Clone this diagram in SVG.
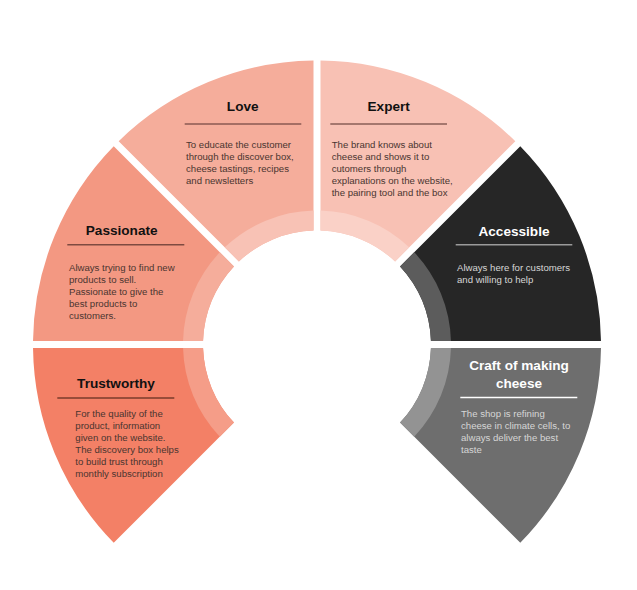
<svg xmlns="http://www.w3.org/2000/svg" width="637" height="590" viewBox="0 0 637 590">
<style>
.t{font-family:"Liberation Sans",Arial,sans-serif;font-weight:bold;font-size:13.6px;text-anchor:middle}
.d{font-family:"Liberation Sans",Arial,sans-serif;font-size:9.6px}
.dk{fill:#111}
.dd{fill:#4a3530}
.lt{fill:#ffffff}
.ld{fill:#d6d6d6}
.u{stroke-width:1.6;fill:none}
</style>
<rect width="637" height="590" fill="#ffffff"/>
<g id="craft">
<path d="M 520.278 542.828 A 284 284 0 0 0 600.978 348 L 430.946 348 A 114 114 0 0 1 400.047 422.598 Z" fill="#6e6e6e"/>
<path d="M 414.195 436.745 A 134 134 0 0 0 450.954 348 L 430.946 348 A 114 114 0 0 1 400.047 422.598 Z" fill="#939393"/>
<text class="t lt" x="519" y="370">Craft of making</text>
<text class="t lt" x="519" y="387.5">cheese</text>
<line class="u" x1="460.3" y1="397.5" x2="577.3" y2="397.5" stroke="#ffffff"/>
<text class="d ld" x="461" y="416.7">The shop is refining</text>
<text class="d ld" x="461" y="428.7">cheese in climate cells, to</text>
<text class="d ld" x="461" y="440.7">always deliver the best</text>
<text class="d ld" x="461" y="452.7">taste</text>
</g>
<g id="accessible">
<path d="M 600.978 341 A 284 284 0 0 0 520.278 146.172 L 400.047 266.402 A 114 114 0 0 1 430.946 341 Z" fill="#262626"/>
<path d="M 450.954 341 A 134 134 0 0 0 414.195 252.255 L 400.047 266.402 A 114 114 0 0 1 430.946 341 Z" fill="#5c5c5c"/>
<text class="t lt" x="514" y="235.7">Accessible</text>
<line class="u" x1="455.7" y1="244.7" x2="572.3" y2="244.7" stroke="#9a9a9a"/>
<text class="d ld" x="457" y="270.7">Always here for customers</text>
<text class="d ld" x="457" y="282.7">and willing to help</text>
</g>
<g id="expert">
<path d="M 515.328 141.222 A 284 284 0 0 0 320.5 60.522 L 320.5 230.554 A 114 114 0 0 1 395.098 261.453 Z" fill="#f8c1b4"/>
<path d="M 409.245 247.305 A 134 134 0 0 0 320.5 210.546 L 320.5 230.554 A 114 114 0 0 1 395.098 261.453 Z" fill="#fad1c7"/>
<text class="t dk" x="388.7" y="110.7">Expert</text>
<line class="u" x1="330.3" y1="124" x2="447" y2="124" stroke="#8a5e57"/>
<text class="d dd" x="331.7" y="148.3">The brand knows about</text>
<text class="d dd" x="331.7" y="160.3">cheese and shows it to</text>
<text class="d dd" x="331.7" y="172.3">cutomers through</text>
<text class="d dd" x="331.7" y="184.3">explanations on the website,</text>
<text class="d dd" x="331.7" y="196.3">the pairing tool and the box</text>
</g>
<g id="love">
<path d="M 313.5 60.522 A 284 284 0 0 0 118.672 141.222 L 238.902 261.453 A 114 114 0 0 1 313.5 230.554 Z" fill="#f5ad9b"/>
<path d="M 313.5 210.546 A 134 134 0 0 0 224.755 247.305 L 238.902 261.453 A 114 114 0 0 1 313.5 230.554 Z" fill="#f8c2b5"/>
<text class="t dk" x="242.7" y="110.7">Love</text>
<line class="u" x1="184.7" y1="124" x2="301.3" y2="124" stroke="#8a5a52"/>
<text class="d dd" x="186" y="148.3">To educate the customer</text>
<text class="d dd" x="186" y="160.3">through the discover box,</text>
<text class="d dd" x="186" y="172.3">cheese tastings, recipes</text>
<text class="d dd" x="186" y="184.3">and newsletters</text>
</g>
<g id="passionate">
<path d="M 113.722 146.172 A 284 284 0 0 0 33.022 341 L 203.054 341 A 114 114 0 0 1 233.953 266.402 Z" fill="#f39882"/>
<path d="M 219.805 252.255 A 134 134 0 0 0 183.046 341 L 203.054 341 A 114 114 0 0 1 233.953 266.402 Z" fill="#f5ad9b"/>
<text class="t dk" x="121.7" y="235.3">Passionate</text>
<line class="u" x1="67.3" y1="244.7" x2="184.3" y2="244.7" stroke="#7e4a40"/>
<text class="d dd" x="69" y="270.7">Always trying to find new</text>
<text class="d dd" x="69" y="282.7">products to sell.</text>
<text class="d dd" x="69" y="294.7">Passionate to give the</text>
<text class="d dd" x="69" y="306.7">best products to</text>
<text class="d dd" x="69" y="318.7">customers.</text>
</g>
<g id="trustworthy">
<path d="M 33.022 348 A 284 284 0 0 0 113.722 542.828 L 233.953 422.598 A 114 114 0 0 1 203.054 348 Z" fill="#f38066"/>
<path d="M 183.046 348 A 134 134 0 0 0 219.805 436.745 L 233.953 422.598 A 114 114 0 0 1 203.054 348 Z" fill="#f59d88"/>
<text class="t dk" x="116" y="387.5">Trustworthy</text>
<line class="u" x1="57.3" y1="398" x2="174.3" y2="398" stroke="#7a3b2b"/>
<text class="d dd" x="75.3" y="416.7">For the quality of the</text>
<text class="d dd" x="75.3" y="428.7">product, information</text>
<text class="d dd" x="75.3" y="440.7">given on the website.</text>
<text class="d dd" x="75.3" y="452.7">The discovery box helps</text>
<text class="d dd" x="75.3" y="464.7">to build trust through</text>
<text class="d dd" x="75.3" y="476.7">monthly subscription</text>
</g>
<g id="connectors"/>
</svg>
